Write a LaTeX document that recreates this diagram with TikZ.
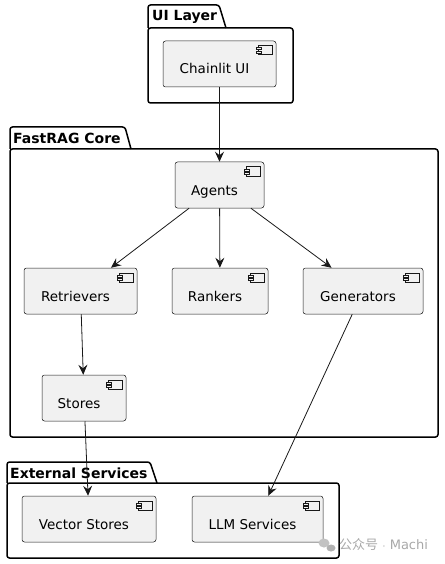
\documentclass[tikz,border=0pt]{standalone}
\usepackage{fontspec}
\setmainfont{DejaVu Sans}
\newfontfamily\cjkfont{Noto Sans CJK SC}
\usetikzlibrary{arrows.meta}

\definecolor{compfill}{HTML}{F1F1F1}
\definecolor{edge}{HTML}{181818}
\definecolor{mark}{HTML}{A8A8A8}

\tikzset{
  comp/.style={shape=rectangle, draw=edge, line width=0.5pt, fill=compfill,
    rounded corners=2.5pt, minimum height=46pt, inner sep=0pt,
    text height=20pt, text depth=0pt, font=\fontsize{13.5}{16}\selectfont,
    execute at begin node={\hspace*{-10pt}}},
  pkg/.style={draw=black, line width=1.5pt, rounded corners=2.5pt},
  pkgname/.style={anchor=west, inner sep=0pt, font=\fontsize{14}{16}\selectfont\bfseries},
  flow/.style={draw=edge, line width=0.8pt, -{Stealth[length=10pt,width=9pt,inset=3.5pt]}},
}

\begin{document}
\begin{tikzpicture}[x=1pt, y=-1pt]
    \useasboundingbox (0,0) rectangle (444,564);

    % packages
    \draw[pkg] (148,28) -- (148,5) -- (219,5) -- (226,28);
    \draw[pkg] (148,28) rectangle (293,103);
    \node[pkgname] (uilayer) at (152,17) {UI Layer};

    \draw[pkg] (10,149) -- (10,127) -- (125,127) -- (131,149);
    \draw[pkg] (10,149) rectangle (438,437);
    \node[pkgname] (core) at (13,138) {FastRAG Core};

    \draw[pkg] (7,483) -- (7,462) -- (150,462) -- (157,483);
    \draw[pkg] (7,483) rectangle (339,558);
    \node[pkgname] (external) at (10,473) {External Services};

    % components
    \node[comp, minimum width=113pt] (chainlit) at (219.5,64) {Chainlit UI};
    \node[comp, minimum width=89pt] (agents) at (219.5,185) {Agents};
    \node[comp, minimum width=113pt] (retrievers) at (80.5,291) {Retrievers};
    \node[comp, minimum width=96pt] (rankers) at (220,291) {Rankers};
    \node[comp, minimum width=120pt] (generators) at (363,291) {Generators};
    \node[comp, minimum width=84pt] (stores) at (84,398) {Stores};
    \node[comp, minimum width=134pt] (vecstores) at (89,519) {Vector Stores};
    \node[comp, minimum width=131pt] (llm) at (257.5,519) {LLM Services};

    % component icons
    \foreach \n in {chainlit,agents,retrievers,rankers,generators,stores,vecstores,llm} {
        \draw[edge, line width=0.5pt, fill=compfill] ([shift={(-18,5)}]\n.north east) rectangle ++(14,9);
        \draw[edge, line width=0.5pt, fill=compfill] ([shift={(-20.5,7)}]\n.north east) rectangle ++(5,2);
        \draw[edge, line width=0.5pt, fill=compfill] ([shift={(-20.5,10.5)}]\n.north east) rectangle ++(5,2);
    }

    % dependencies
    \draw[flow] (chainlit) -- (agents);
    \draw[flow] (agents) -- (retrievers);
    \draw[flow] (agents) -- (rankers);
    \draw[flow] (agents) -- (generators);
    \draw[flow] (retrievers) -- (stores);
    \draw[flow] (stores) -- (vecstores);
    \draw[flow] (generators) -- (llm);

    % watermark
    \fill[mark!70] (324,543) ellipse (5.5pt and 4.5pt);
    \fill[mark!90] (331,548) ellipse (4.5pt and 3.5pt);
    \node[anchor=west, inner sep=0pt, text=mark, font=\fontsize{13}{15}\selectfont] (wm) at (339,545)
        {{\cjkfont 公众号} $\cdot$ Machi};
\end{tikzpicture}
\end{document}
